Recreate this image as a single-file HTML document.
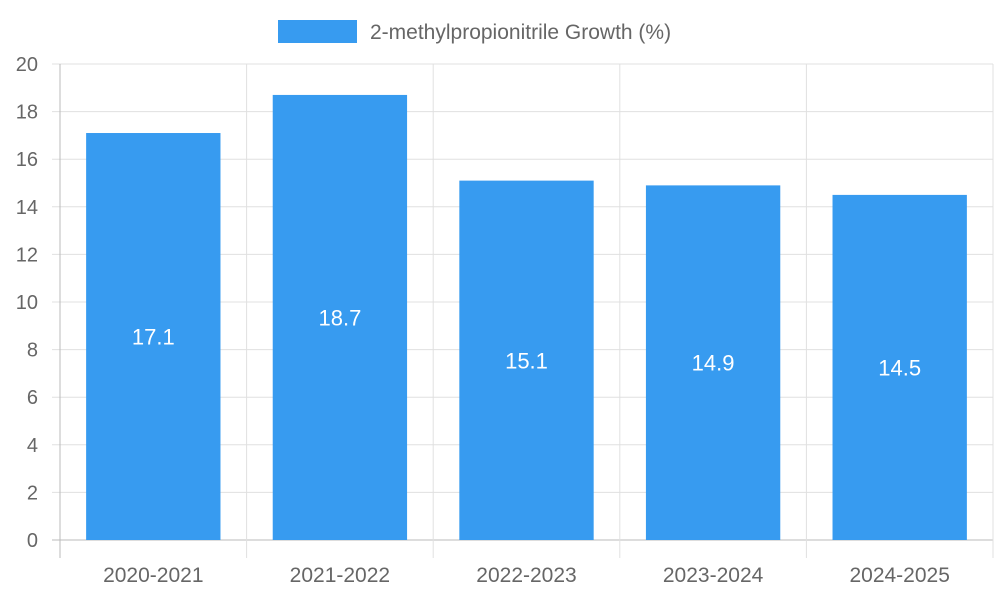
<!DOCTYPE html>
<html><head><meta charset="utf-8"><style>
body{margin:0;background:#fff;}
svg{display:block;font-family:"Liberation Sans",sans-serif;}
</style></head><body>
<svg id="chart" width="1000" height="600">
<g id="legend">
<rect x="278" y="20" width="79" height="23" fill="#379bf0"></rect>
<text x="370" y="39" font-size="21" fill="#666">2-methylpropionitrile Growth (%)</text>
</g>
<g id="grid"></g><g id="bars"></g><g id="axes"></g>
</svg>
<script>
const categories=["2020-2021","2021-2022","2022-2023","2023-2024","2024-2025"];
const values=[17.1,18.7,15.1,14.9,14.5];
const yTicks=[0,2,4,6,8,10,12,14,16,18,20];
const NS="http://www.w3.org/2000/svg";
const L=60,R=993,T=64,B=540,yMax=20;
const bw=(R-L)/categories.length;
function y(v){return B-(v/yMax)*(B-T);}
function x(i){return L+bw*i;}
function mk(tag,attrs,parent,txt){const e=document.createElementNS(NS,tag);for(const k in attrs)e.setAttribute(k,attrs[k]);if(txt!==undefined)e.textContent=txt;parent.appendChild(e);return e;}
const grid=document.getElementById('grid'),bars=document.getElementById('bars'),axes=document.getElementById('axes');
yTicks.forEach(t=>{
 const g=mk('line',{x1:L-8,x2:R,y1:y(t),y2:y(t),stroke:t===0?'#bbb':'#e0e0e0','stroke-width':1},grid);
 
 
 const lb=mk('text',{x:L-22,y:y(t)+7,'font-size':20,fill:'#666','text-anchor':'end'},axes,String(t));
 
 
});
for(let i=0;i<=categories.length;i++){
 const g=mk('line',{x1:x(i),x2:x(i),y1:T,y2:B+18,stroke:i===0?'#bbb':'#e0e0e0','stroke-width':1},grid);
 
 
}
categories.forEach((c,i)=>{
 const cx=x(i)+bw/2,w=bw*0.72;
 const r=mk('rect',{x:cx-w/2,y:y(values[i]),width:w,height:B-y(values[i]),fill:'#379bf0'},bars);
 
 
 const v=mk('text',{x:cx,y:(y(values[i])+B)/2+8,'font-size':22,fill:'#fff','text-anchor':'middle'},bars,values[i].toFixed(1));
 
 
 const lb=mk('text',{x:cx,y:582,'font-size':21,fill:'#666','text-anchor':'middle'},axes,c);
 
 
});
</script>
</body></html>
